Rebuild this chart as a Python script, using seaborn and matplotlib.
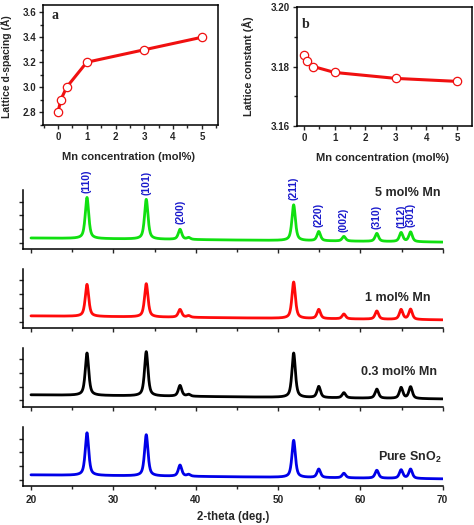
import numpy as np
import pandas as pd
import matplotlib
matplotlib.use("Agg")
import matplotlib.pyplot as plt
import seaborn as sns
from matplotlib.ticker import MultipleLocator

# ---------------- data ----------------
mn_conc = [0, 0.1, 0.3, 1, 3, 5]
d_spacing = [2.80, 2.90, 3.00, 3.20, 3.30, 3.40]
lattice_const = [3.184, 3.182, 3.180, 3.178, 3.176, 3.175]

peak_hkl = ["(110)", "(101)", "(200)", "", "(211)", "(220)", "(002)", "(310)", "(112)", "(301)"]
peak_pos = [26.8, 34.0, 38.1, 39.15, 51.9, 54.95, 58.0, 62.0, 64.95, 66.1]

samples = ["5 mol% Mn", "1 mol% Mn", "0.3 mol% Mn", "Pure SnO$_\\mathbf{2}$"]
tops_5 = [3.31, 3.17, 0.99, 0.40, 2.77, 0.83, 0.47, 0.69, 0.76, 0.80]
tops_1 = [2.71, 2.76, 0.89, 0.44, 2.88, 0.89, 0.55, 0.77, 0.89, 0.91]
tops_03 = [3.45, 3.55, 1.09, 0.45, 3.45, 1.02, 0.56, 0.82, 0.95, 1.00]
tops_pure = [3.43, 3.29, 1.08, 0.41, 2.88, 0.79, 0.48, 0.70, 0.74, 0.79]
bg_left = [0.35, 0.41, 0.40, 0.36]
bg_right = [0.05, 0.12, 0.10, 0.07]
colors = ["#10e010", "#ff0a0a", "#000000", "#0000e8"]

# ---------------- style ----------------
sns.set_theme(style="ticks")
plt.rcParams["font.family"] = ["Liberation Sans", "DejaVu Sans"]
plt.rcParams["font.weight"] = "bold"
plt.rcParams["mathtext.fontset"] = "custom"
plt.rcParams["mathtext.bf"] = "Liberation Sans:bold"
plt.rcParams["mathtext.rm"] = "Liberation Sans:bold"

fig = plt.figure(figsize=(4.74, 5.25), dpi=100)

# ---------------- top panels ----------------
def style_top(ax):
    for s in ax.spines.values():
        s.set_linewidth(1.1)
        s.set_color("black")
    ax.tick_params(which="major", length=3, width=1, direction="out", labelsize=7, pad=2,
                   top=False, right=False)
    ax.tick_params(which="minor", length=2, width=1, direction="out", top=False, right=False)
    for lab in ax.get_xticklabels() + ax.get_yticklabels():
        lab.set_fontweight("bold")

axa = fig.add_axes([43/474, 1-125/525, 175/474, 120/525])
sns.lineplot(x=mn_conc, y=d_spacing, ax=axa, color="#f01010", lw=2.2, marker="o",
             markersize=6, markerfacecolor="white", markeredgecolor="#f01010",
             markeredgewidth=0.9)
axa.set_xlim(-0.52, 5.56)
axa.set_ylim(2.698, 3.658)
axa.xaxis.set_major_locator(MultipleLocator(1))
axa.xaxis.set_minor_locator(MultipleLocator(0.5))
axa.yaxis.set_minor_locator(MultipleLocator(0.1))
axa.set_yticks([2.8, 3.0, 3.2, 3.4, 3.6])
axa.set_yticklabels(["2.8", "3.0", "3.2", "3.4", "3.6"])
axa.set_xlabel("Mn concentration (mol%)", fontsize=8, fontweight="bold")
axa.set_ylabel("Lattice d-spacing (Å)", fontsize=7.5, fontweight="bold")
axa.xaxis.set_label_coords(0.49, -0.225)
axa.yaxis.set_label_coords(-0.178, 0.49)
axa.text(0.05, 0.88, "a", transform=axa.transAxes, fontsize=10, fontweight="bold",
         family="Liberation Serif")
style_top(axa)

axb = fig.add_axes([297/474, 1-126/525, 175/474, 119/525])
sns.lineplot(x=mn_conc, y=lattice_const, ax=axb, color="#f01010", lw=2.2, marker="o",
             markersize=6, markerfacecolor="white", markeredgecolor="#f01010",
             markeredgewidth=0.9)
axb.set_xlim(-0.23, 5.49)
axb.set_ylim(3.16, 3.20)
axb.xaxis.set_major_locator(MultipleLocator(1))
axb.xaxis.set_minor_locator(MultipleLocator(0.5))
axb.set_yticks([3.16, 3.18, 3.20])
axb.set_yticklabels(["3.16", "3.18", "3.20"])
axb.yaxis.set_minor_locator(MultipleLocator(0.01))
axb.set_xlabel("Mn concentration (mol%)", fontsize=8, fontweight="bold")
axb.set_ylabel("Lattice constant (Å)", fontsize=7.7, fontweight="bold")
axb.xaxis.set_label_coords(0.49, -0.225)
axb.yaxis.set_label_coords(-0.246, 0.5)
axb.text(0.03, 0.82, "b", transform=axb.transAxes, fontsize=10, fontweight="bold",
         family="Liberation Serif")
style_top(axb)

# ---------------- XRD panels ----------------
two_theta = np.linspace(20, 70, 2501)
pos = np.array(peak_pos)

def profile(x, c, w=0.5, eta=0.65):
    u = (x - c) / (w / 2)
    return eta / (1 + u**2) + (1 - eta) * np.exp(-np.log(2) * u**2)

def pattern(tops, bl, br):
    bg = lambda x: bl + (br - bl) * (np.asarray(x) - 20) / 50
    M = np.array([[profile(ci, cj) for cj in pos] for ci in pos])
    amps = np.linalg.solve(M, np.array(tops) - bg(pos))
    y = bg(two_theta) + sum(a * profile(two_theta, c) for a, c in zip(amps, pos))
    return y

all_tops = [tops_5, tops_1, tops_03, tops_pure]
bottoms_px = [249, 327.7, 406.5, 486]
label_y = [3.65, 1.71, 2.07, 1.65]
label_x = [69.7, 68.5, 69.3, 69.9]

for i in range(4):
    ax = fig.add_axes([23/474, 1-bottoms_px[i]/525, (442.7-23)/474, 59/525])
    df = pd.DataFrame({"two_theta": two_theta,
                       "intensity": pattern(all_tops[i], bg_left[i], bg_right[i])})
    sns.lineplot(data=df, x="two_theta", y="intensity", ax=ax, color=colors[i], lw=2.0)
    ax.set_xlim(19.03, 70)
    ax.set_ylim(-0.45, 3.85)
    ax.set_yticks([0, 1, 2, 3])
    ax.set_yticklabels([])
    ax.xaxis.set_major_locator(MultipleLocator(10))
    ax.xaxis.set_minor_locator(MultipleLocator(5))
    ax.spines["top"].set_visible(False)
    ax.spines["right"].set_visible(False)
    for s in ["left", "bottom"]:
        ax.spines[s].set_linewidth(1.1)
        ax.spines[s].set_color("black")
    ax.tick_params(which="major", length=3.2, width=1, direction="out", labelsize=7.3, pad=3.5)
    ax.tick_params(which="minor", length=2.4, width=1, direction="out")
    ax.tick_params(axis="y", which="major", length=2.6)
    ax.set_xlabel("")
    ax.set_ylabel("")
    if i < 3:
        ax.set_xticklabels([])
    else:
        ax.set_xticks([20, 30, 40, 50, 60, 70])
        ax.set_xticklabels(["20", "30", "40", "50", "60", "70"])
        for lab in ax.get_xticklabels():
            lab.set_fontweight("bold")
        ax.set_xlabel("2-theta (deg.)", fontsize=8.3, fontweight="bold", labelpad=4)
    ax.text(label_x[i], label_y[i], samples[i], ha="right", va="center",
            fontsize=9, fontweight="bold")
    if i == 0:
        for hkl, c, t in zip(peak_hkl, peak_pos, all_tops[0]):
            if hkl:
                ax.text(c, t + 0.35, hkl, rotation=90, ha="center", va="bottom",
                        fontsize=7.6, color="#1a1acc", fontweight="bold", clip_on=False)

fig.savefig("out.png", dpi=100)
